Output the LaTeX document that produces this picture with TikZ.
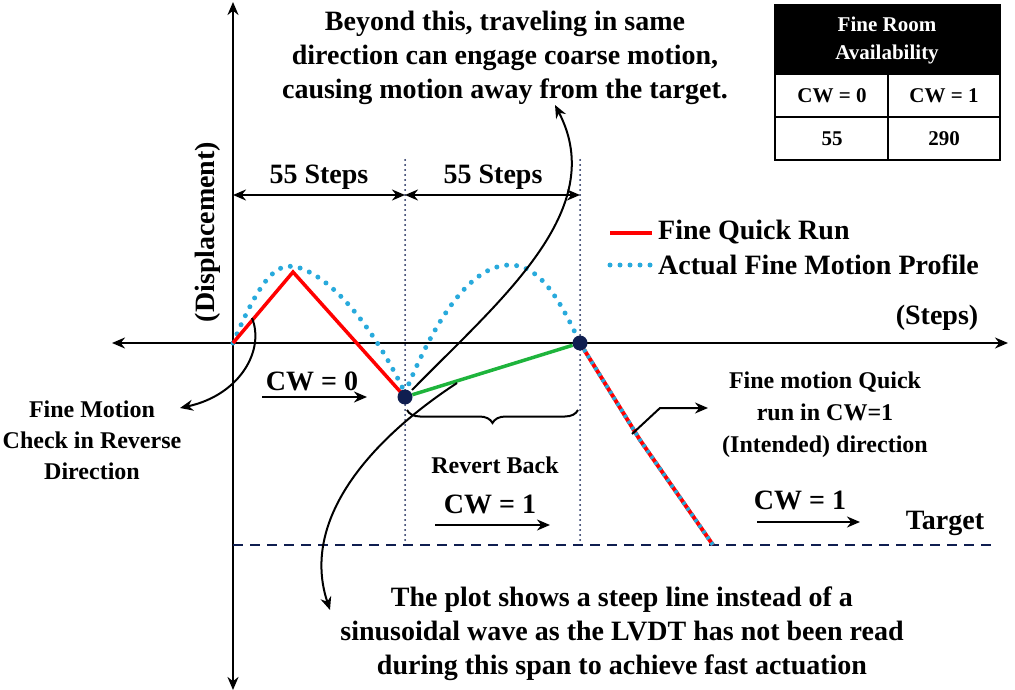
\documentclass[tikz,border=0pt]{standalone}
\usepackage{fontspec}
\setmainfont{Liberation Serif}
\usetikzlibrary{arrows.meta,decorations.pathreplacing}
\definecolor{navy}{RGB}{15,30,80}
\definecolor{skyb}{RGB}{40,170,220}
\definecolor{grn}{RGB}{30,180,60}
\tikzset{
 txt/.style={font=\bfseries\fontsize{28}{34}\selectfont,align=center,inner sep=0},
 small/.style={font=\bfseries\fontsize{21}{26}\selectfont,align=center,inner sep=0},
 arr/.style={-{Stealth[length=13pt,width=11pt]},line width=2.6pt},
 darr/.style={{Stealth[length=13pt,width=11pt]}-{Stealth[length=13pt,width=11pt]},line width=2.6pt},
 vdot/.style={navy,line width=2pt,line cap=round,dash pattern=on 0pt off 5pt},
 dotn/.style={circle,fill=navy,inner sep=0,minimum size=15pt},
 bluep/.style={skyb,line width=5pt,line cap=round,dash pattern=on 0pt off 10pt},
}
\begin{document}
\begin{tikzpicture}[x=1pt,y=-1pt]
\useasboundingbox (0,0) rectangle (1015,690);
% axes
\draw[darr] (233,690) -- (233,2);
\draw[darr] (112,343) -- (1008,343);
\node[txt,rotate=90] (disp) at (208,232) {(Displacement)};
\node[txt] (steps) at (937,318) {(Steps)};
% verticals
\draw[vdot] (405,160) -- (405,545);
\draw[vdot] (580,160) -- (580,545);
\draw[navy,dash pattern=on 10pt off 7pt,line width=2pt] (233,545) -- (992,545);
% 55 steps
\draw[darr] (233,195) -- (405,195);
\draw[darr] (405,195) -- (580,195);
\node[txt] (s1) at (319,177) {55 Steps};
\node[txt] (s2) at (493,177) {55 Steps};
% profiles
\draw[bluep] (233,343) .. controls (265,268) and (280,262) .. (300,268) .. controls (335,280) and (375,330) .. (405,393);
\draw[bluep] (405,393) .. controls (435,320) and (470,265) .. (510,265) .. controls (540,265) and (560,300) .. (580,343);
\draw[red,line width=3.5pt] (233,343) -- (293,272) -- (405,397);
\coordinate (p0) at (233,343);
\node[dotn] (d1) at (405,397) {};
\node[dotn] (d2) at (580,343) {};
\coordinate (tgt) at (713,545);
\draw[grn,line width=3.5pt] (d1) -- (d2);
\draw[red,line width=4pt] (d2) -- (640,440) -- (tgt);
\draw[skyb,line width=4pt,dash pattern=on 3pt off 4pt] (d2) -- (640,440) -- (tgt);
% legend
\draw[red,line width=3.5pt] (610,233) -- (652,233);
\draw[bluep] (610,265) -- (652,265);
\node[txt,anchor=west] (l1) at (658,232) {Fine Quick Run};
\node[txt,anchor=west] (l2) at (658,265) {Actual Fine Motion Profile};
% table
\fill (775,5) rectangle (1000,75);
\node[small,text=white] (th) at (887,40) {Fine Room\\[2pt]Availability};
\draw[line width=2pt] (775,5) rectangle (1000,160);
\draw[line width=2pt] (775,117) -- (1000,117) (888,75) -- (888,160);
\node[small] (c0) at (832,96) {CW = 0};
\node[small] (c1) at (944,96) {CW = 1};
\node[small] (v0) at (832,139) {55};
\node[small] (v1) at (944,139) {290};
% top text
\node[txt] (top) at (505,58) {Beyond this, traveling in same\\direction can engage coarse motion,\\causing motion away from the target.};
\draw[arr,line width=2pt] (412,390) .. controls (500,300) and (610,210) .. (555,105);
% bottom text
\node[txt] (bot) at (622,634) {The plot shows a steep line instead of a\\sinusoidal wave as the LVDT has not been read\\during this span to achieve fast actuation};
\draw[arr,line width=2pt] (457,383) .. controls (370,440) and (300,520) .. (330,610);
% left note
\node[txt,font=\bfseries\fontsize{24}{31}\selectfont] (left) at (92,440) {Fine Motion\\Check in Reverse\\Direction};
\draw[arr,line width=2pt] (252,318) .. controls (265,350) and (240,395) .. (180,408);
% CW labels
\node[txt] (cw0) at (312,381) {CW = 0};
\draw[arr] (262,397) -- (367,397);
\draw[line width=2pt,decorate,decoration={brace,mirror,amplitude=13pt}] (407,410) -- (578,410);
\node[txt,font=\bfseries\fontsize{24}{28}\selectfont] (rb) at (495,465) {Revert Back};
\node[txt] (cw1a) at (490,504) {CW = 1};
\draw[arr] (435,525) -- (550,525);
\node[txt] (cw1b) at (800,500) {CW = 1};
\draw[arr] (757,522) -- (860,522);
\node[txt] (tg) at (945,523) {Target};
% right note
\node[txt,font=\bfseries\fontsize{24}{32}\selectfont] (rn) at (825,415) {Fine motion Quick\\run in CW=1\\(Intended) direction};
\coordinate (rr) at (632,434);
\draw[arr,line width=2pt] (rr) -- (660,408) -- (708,408);
\end{tikzpicture}
\end{document}
